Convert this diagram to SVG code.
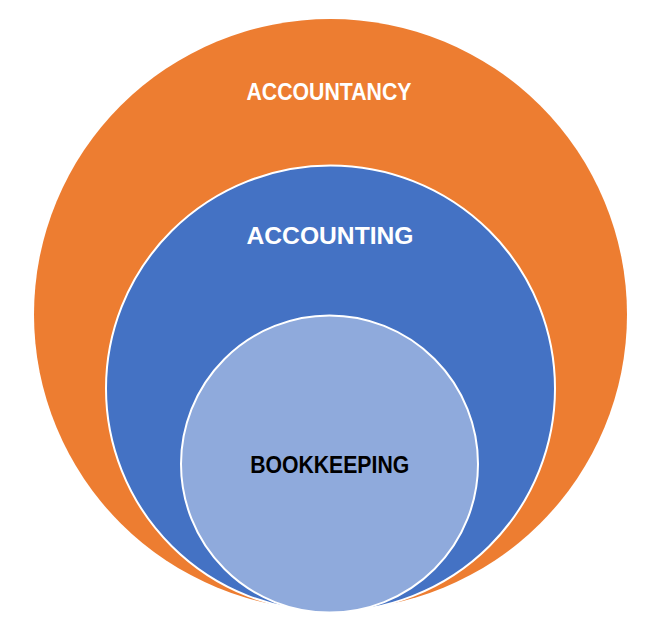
<svg xmlns="http://www.w3.org/2000/svg" width="668" height="625" viewBox="0 0 668 625">
<style>
.lbl{font-family:"Liberation Sans",Arial,sans-serif;font-weight:bold;text-anchor:middle}
.ring{stroke:#FFFFFF;stroke-width:2}
</style>
<rect width="668" height="625" fill="#FFFFFF"/>
<g id="accountancy">
<ellipse cx="330.5" cy="314.5" rx="296.5" ry="295.5" fill="#ED7D31"/>
<text class="lbl" x="329" y="99.5" font-size="23" fill="#FFFFFF" textLength="165" lengthAdjust="spacingAndGlyphs">ACCOUNTANCY</text>
</g>
<g id="accounting">
<ellipse class="ring" cx="330.5" cy="388.5" rx="224.5" ry="223" fill="#4472C4"/>
<text class="lbl" x="330" y="244.3" font-size="24" fill="#FFFFFF" textLength="167" lengthAdjust="spacingAndGlyphs">ACCOUNTING</text>
</g>
<g id="bookkeeping">
<circle class="ring" cx="329.5" cy="464" r="148.5" fill="#8FAADC"/>
<text class="lbl" x="329.7" y="473.3" font-size="23" fill="#000000" textLength="159" lengthAdjust="spacingAndGlyphs">BOOKKEEPING</text>
</g>
<g id="connectors"/>
</svg>
